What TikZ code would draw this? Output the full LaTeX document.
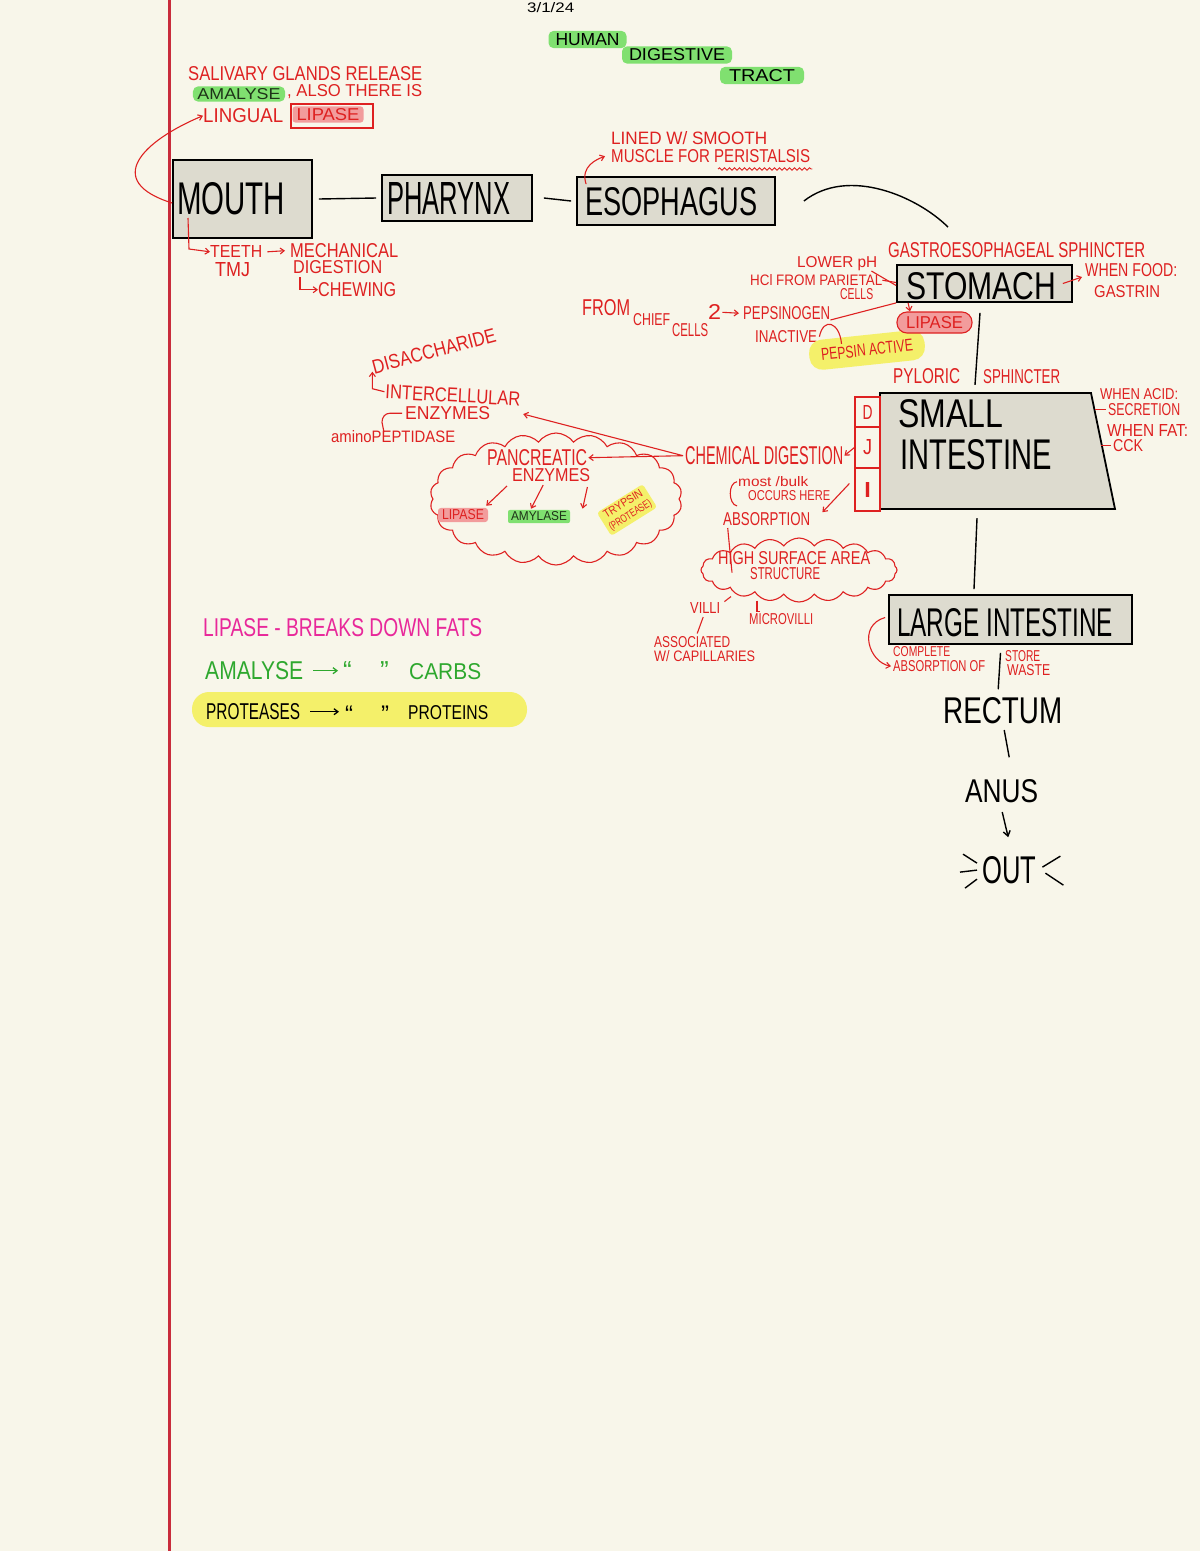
\documentclass[tikz,border=0pt]{standalone}
\usepackage{fontspec}
\setmainfont{Liberation Sans}
\usepackage{graphicx}
\usetikzlibrary{arrows.meta,shapes.symbols,decorations.pathmorphing}
\definecolor{bgc}{HTML}{F8F6EA}
\definecolor{rd}{HTML}{DE2121}
\definecolor{margin}{HTML}{C92C3C}
\definecolor{boxg}{HTML}{DDDBCF}
\definecolor{hlgreen}{HTML}{80E070}
\definecolor{hlpink}{HTML}{F29C9C}
\definecolor{hlyellow}{HTML}{F4F06A}
\definecolor{mag}{HTML}{E8289A}
\definecolor{lgreen}{HTML}{2EA82E}
\definecolor{dkgreen}{HTML}{1E3318}
\newcommand\hw[3]{\resizebox{#1pt}{#2pt}{#3}}
\tikzset{
 txt/.style={inner sep=0pt, anchor=south west},
 rt/.style={txt, text=rd},
 bt/.style={txt, text=black},
 box/.style={draw=black, line width=1.8pt, fill=boxg, inner sep=0pt},
 rl/.style={draw=rd, line width=1.1pt},
 ra/.style={rl, -{Straight Barb[length=4pt,width=6pt]}},
 bl/.style={draw=black, line width=1.4pt},
 hl/.style={inner xsep=5pt, inner ysep=2.5pt, rounded corners=5pt},
 tabbox/.style={draw=rd, line width=1.2pt, minimum width=25pt, inner sep=0pt, text=rd},
 cloudy/.style={cloud, draw=rd, line width=1.1pt, cloud puffs=22, cloud puff arc=110, inner sep=0pt},
}
\begin{document}
\begin{tikzpicture}[x=1pt,y=-1pt]
\useasboundingbox (0,0) rectangle (1200,1551);
\fill[bgc] (0,0) rectangle (1200,1551);
\draw[margin, line width=3pt] (169,0) -- (169,1551);

% title
\node[bt] (date) at (527,13) {\hw{47}{10}{3/1/24}};
\node[hl, fill=hlgreen, inner xsep=7pt] (human) at (587.5,39.5) {\hw{64}{12}{HUMAN}};
\node[hl, fill=hlgreen, inner xsep=7pt] (digestive) at (677,55) {\hw{96}{12}{DIGESTIVE}};
\node[hl, fill=hlgreen, inner xsep=9pt] (tract) at (762,75.5) {\hw{66}{12}{TRACT}};

% salivary
\node[rt] (sal) at (188,81) {\hw{234}{14}{SALIVARY GLANDS RELEASE}};
\node[hl, fill=hlgreen, inner xsep=4.5pt, inner ysep=2pt, text=dkgreen] (amy1) at (239,94) {\hw{83}{11}{AMALYSE}};
\node[rt] (also) at (287,99) {\hw{135}{12}{, ALSO THERE IS}};
\node[rt] (lingual) at (203,123) {\hw{80}{14}{LINGUAL}};
\node[draw=rd, line width=1.2pt, minimum width=82pt, minimum height=24pt, inner sep=0pt] (lipbox) at (332,116) {};
\node[hl, fill=hlpink, inner xsep=4pt, inner ysep=2pt, rounded corners=3pt, text=rd] (lip1) at (328,114.5) {\hw{63}{12}{LIPASE}};

% main boxes
\node[box, minimum width=139pt, minimum height=78pt] (mouth) at (242.5,199) {};
\node[bt] (mouthtxt) at (177,215) {\hw{108}{32}{MOUTH}};
\node[box, minimum width=150pt, minimum height=46pt] (pharynx) at (457,198) {};
\node[bt] (pharynxtxt) at (387,215) {\hw{123}{32}{PHARYNX}};
\node[box, minimum width=198pt, minimum height=48pt] (eso) at (676,201) {};
\node[bt] (esotxt) at (585,216) {\hw{172}{28}{ESOPHAGUS}};
\draw[bl] ([xshift=6pt]mouth.east) -- ([xshift=-5pt]pharynx.west);
\draw[bl] ([xshift=11pt]pharynx.east) -- ([xshift=-5pt]eso.west);

% mouth notes
\node[rt] (teeth) at (210,258) {\hw{52}{12}{TEETH}};
\node[rt] (tmj) at (215,277) {\hw{35}{14}{TMJ}};
\node[rt] (mech) at (290,258) {\hw{108}{14}{MECHANICAL}};
\node[rt] (digestion) at (293,274) {\hw{89}{13}{DIGESTION}};
\node[rt] (chew) at (318,297) {\hw{78}{14}{CHEWING}};
\draw[ra] ([shift={(-54.5,19)}]mouth.center) -- ++(1,31) -- (teeth.west);
\draw[ra] ([xshift=5pt]teeth.east) -- ([xshift=-5pt]mech.west);
\draw[ra] ([shift={(7,3)}]digestion.south west) |- (chew.west);
\draw[ra] ([yshift=-4pt]mouth.west) .. controls +(-70,-22) and +(-60,25) .. (lingual.west);

% esophagus notes
\node[rt] (lined) at (611,145) {\hw{156}{13}{LINED W/ SMOOTH}};
\node[rt] (muscle) at (611,163) {\hw{199}{13}{MUSCLE FOR PERISTALSIS}};
\draw[rl, line width=0.9pt, decorate, decoration={snake, amplitude=1.2pt, segment length=5pt}] ([shift={(107,6)}]muscle.south west) -- ([shift={(2,6)}]muscle.south east);
\draw[ra] ([shift={(10,8)}]eso.north west) .. controls +(-6,-18) and +(-8,3) .. ([xshift=-6pt]muscle.west);

% esophagus to stomach
\node[box, minimum width=175pt, minimum height=37pt] (stomach) at (984.5,283.5) {};
\node[bt] (stomtxt) at (906,300) {\hw{150}{27}{STOMACH}};
\draw[bl] ([xshift=28pt]eso.east) .. controls +(45,-35) and +(-30,-30) .. ([shift={(-36.5,-37)}]stomach.north);

% stomach notes
\node[rt] (gastro) at (888,258) {\hw{257}{15}{GASTROESOPHAGEAL SPHINCTER}};
\node[rt] (whenfood) at (1085,277) {\hw{92}{13}{WHEN FOOD:}};
\node[rt] (gastrin) at (1094,298) {\hw{66}{12}{GASTRIN}};
\draw[ra] ([xshift=-10pt]stomach.east) -- ([xshift=-3pt]whenfood.south west);
\node[rt] (lowerph) at (797,271) {\hw{80}{11}{LOWER pH}};
\node[rt] (hcl) at (750,286) {\hw{132}{11}{HCl FROM PARIETAL}};
\node[rt] (cells1) at (840,300) {\hw{33}{11}{CELLS}};
\draw[rl] ([xshift=-6pt]lowerph.south east) -- ([yshift=-2pt]stomach.west);
\draw[rl] (hcl.east) -- ([yshift=1pt]stomach.west);
\node[rt] (from) at (582,316) {\hw{48}{16}{FROM}};
\node[rt] (chief) at (633,326) {\hw{37}{12}{CHIEF}};
\node[rt] (cells2) at (672,337) {\hw{36}{13}{CELLS}};
\node[rt] (two) at (708,320) {\hw{13}{15}{2}};
\node[rt] (pepsinogen) at (743,320) {\hw{87}{13}{PEPSINOGEN}};
\draw[ra] ([xshift=1pt]two.east) -- ([xshift=-4pt]pepsinogen.west);
\draw[rl] (pepsinogen.south east) -- (stomach.south west);
\node[rt] (inactive) at (755,343) {\hw{62}{12}{INACTIVE}};
\node[hl, fill=hlyellow, rotate=6, inner xsep=12pt, inner ysep=9pt, rounded corners=13pt, text=rd] (pepsin) at (867,350) {\hw{92}{12}{PEPSIN ACTIVE}};
\draw[rl] ([xshift=2pt]inactive.east) .. controls +(4,-20) and +(-2,-22) .. ([shift={(34,3)}]pepsin.north west);
\node[draw=rd, line width=1.1pt, fill=hlpink, minimum width=75pt, minimum height=21pt, rounded corners=10pt, inner sep=0pt, text=rd] (lip2) at (934.5,322.5) {\hw{57}{12}{LIPASE}};
\draw[ra] ([xshift=12pt]stomach.south west) -- ([xshift=-24.5pt]lip2.north);
\node[rt] (pyloric) at (893,384) {\hw{67}{15}{PYLORIC}};
\node[rt] (sphincter) at (983,384) {\hw{77}{14}{SPHINCTER}};

% small intestine
\draw[box] (880,393) -- (1091,393) -- (1115,509) -- (880,509) -- cycle;
\node[inner sep=0pt, minimum width=223pt, minimum height=116pt] (si) at (991.5,451) {};
\node[bt] (smalltxt) at (898,428) {\hw{105}{28}{SMALL}};
\node[bt] (inttxt) at (900,470) {\hw{152}{30}{INTESTINE}};
\draw[bl] ([shift={(-4.5,10)}]stomach.south) -- ([shift={(-16.5,-8)}]si.north);
\node[tabbox, minimum height=30pt] (dtab) at (867.5,412) {\hw{10}{14}{D}};
\node[tabbox, minimum height=41pt] (jtab) at (867.5,447.5) {\hw{9}{15}{J}};
\node[tabbox, minimum height=43pt] (itab) at (867.5,489.5) {\hw{10}{15}{I}};
\node[rt] (whenacid) at (1100,400) {\hw{78}{11}{WHEN ACID:}};
\node[rt] (secretion) at (1108,416) {\hw{72}{12}{SECRETION}};
\node[rt] (whenfat) at (1107,437) {\hw{81}{12}{WHEN FAT:}};
\node[rt] (cck) at (1113,452) {\hw{30}{12}{CCK}};
\draw[rl] ([shift={(-13,0)}]secretion.west) -- ([xshift=-2pt]secretion.west);
\draw[rl] ([shift={(-12,0)}]cck.west) -- ([xshift=-2pt]cck.west);

% chemical digestion
\node[rt] (chem) at (685,465) {\hw{158}{18}{CHEMICAL DIGESTION}};
\draw[ra] (jtab.west) -- ([xshift=1pt]chem.east);
\node[rt, rotate=15, anchor=center] (disacc) at (434,351) {\hw{127}{14}{DISACCHARIDE}};
\node[rt, rotate=-3] (intercell) at (385,399) {\hw{135}{14}{INTERCELLULAR}};
\node[rt] (enz1) at (405,420) {\hw{85}{13}{ENZYMES}};
\node[rt] (amino) at (331,443) {\hw{124}{12}{aminoPEPTIDASE}};
\draw[ra] ([xshift=-1pt]intercell.west) -- ++(-12,-3) -- ++(0,-17);
\draw[rl] ([xshift=-3pt]enz1.west) -- ++(-12,0) .. controls +(-5,0) and +(0,-5) .. ++(-8,9) -- ++(2,10);
\draw[ra] ([xshift=-2pt]chem.west) -- ([shift={(3,8)}]intercell.south east);

% pancreatic cloud
\node[cloudy, minimum width=252pt, minimum height=132pt, aspect=1.9] (pcloud) at (556,499) {};
\node[rt] (panc) at (487,466) {\hw{100}{16}{PANCREATIC}};
\node[rt] (enz2) at (512,482) {\hw{78}{13}{ENZYMES}};
\draw[ra] ([xshift=-2pt]chem.west) -- ([xshift=1pt]panc.east);
\node[hl, fill=hlpink, inner xsep=4pt, inner ysep=2pt, rounded corners=3pt, text=rd] (lip3) at (463,515) {\hw{42}{10}{LIPASE}};
\node[hl, fill=hlgreen, inner xsep=3pt, inner ysep=2pt, rounded corners=2pt, text=dkgreen] (amy2) at (539,516.5) {\hw{56}{9}{AMYLASE}};
\node[fill=hlyellow, rotate=32, inner xsep=3pt, inner ysep=2pt, rounded corners=3pt, text=rd, align=center] (tryp) at (627,510) {\hw{44}{8}{TRYPSIN}\\[1pt]\hw{48}{8}{(PROTEASE)}};
\draw[ra] ([shift={(-5,4)}]enz2.south west) -- ([shift={(-2,-2)}]lip3.north east);
\draw[ra] ([shift={(-8,3)}]enz2.south) -- ([shift={(-8,-1)}]amy2.north);
\draw[ra] ([shift={(-3,5)}]enz2.south east) -- ([shift={(-14,-4)}]tryp.north west);

% absorption
\node[rt] (most) at (738,487) {\hw{70}{10}{most /bulk}};
\node[rt] (occurs) at (748,501) {\hw{82}{10}{OCCURS HERE}};
\node[rt] (absorb) at (723,526) {\hw{87}{13}{ABSORPTION}};
\draw[rl] ([xshift=-1pt]most.west) .. controls +(-9,1) and +(-9,-2) .. ([shift={(-11,5)}]occurs.south west);
\draw[ra] ([shift={(-5,-6)}]itab.west) -- ([shift={(12,-7)}]absorb.east);
\node[cloudy, minimum width=196pt, minimum height=64pt, aspect=3.0, cloud puffs=20] (hcloud) at (799,570) {};
\node[rt] (high) at (718,565) {\hw{152}{13}{HIGH SURFACE AREA}};
\node[rt] (struct) at (750,580) {\hw{70}{12}{STRUCTURE}};
\draw[rl] ([shift={(-39,2)}]absorb.south) -- ([shift={(-67,-30)}]hcloud.south);
\node[rt] (villi) at (690,614) {\hw{30}{11}{VILLI}};
\node[rt] (micro) at (749,625) {\hw{64}{11}{MICROVILLI}};
\node[rt] (assoc) at (654,648) {\hw{76}{11}{ASSOCIATED}};
\node[rt] (capill) at (654,662) {\hw{101}{11}{W/ CAPILLARIES}};
\draw[rl] ([shift={(-68,-6)}]hcloud.south) -- ([shift={(4,-1)}]villi.north east);
\draw[rl] ([shift={(-42,-2)}]hcloud.south) -- ++(0,11) -- ++(3,0);
\draw[rl] ([shift={(-2,3)}]villi.south) -- ([shift={(5,-3)}]assoc.north);

% large intestine
\node[box, minimum width=243pt, minimum height=49pt] (li) at (1010.5,619.5) {};
\node[bt] (litxt) at (897,637) {\hw{216}{28}{LARGE INTESTINE}};
\draw[bl] ([shift={(-14.5,9)}]si.south) -- ([shift={(-36.5,-5)}]li.north);
\node[rt] (complete) at (893,657) {\hw{57}{10}{COMPLETE}};
\node[rt] (absorpof) at (893,672) {\hw{92}{11}{ABSORPTION OF}};
\node[rt] (store) at (1005,662) {\hw{35}{11}{STORE}};
\node[rt] (waste) at (1007,676) {\hw{43}{11}{WASTE}};
\draw[ra] ([shift={(-3,-2)}]li.west) .. controls +(-28,8) and +(-22,-4) .. ([xshift=-2pt]absorpof.west);
\node[bt] (rectum) at (943,724) {\hw{119}{26}{RECTUM}};
\node[bt] (anus) at (965,803) {\hw{73}{23}{ANUS}};
\node[bt] (out) at (982,884) {\hw{54}{27}{OUT}};
\draw[bl] ([shift={(-10,8)}]li.south) -- ([shift={(-4.5,-8)}]rectum.north);
\draw[bl] ([shift={(1.5,6)}]rectum.south) -- ([shift={(7.5,-22)}]anus.north);
\draw[bl, -{Straight Barb[length=5pt,width=7pt]}] ([shift={(0.5,9)}]anus.south) -- ([shift={(-1,-19)}]out.north);
\draw[bl] ([shift={(-19,-16)}]out.west) -- ([shift={(-5,-7)}]out.west);
\draw[bl] ([shift={(-22,2)}]out.west) -- ([shift={(-5,0)}]out.west);
\draw[bl] ([shift={(-17,18)}]out.west) -- ([shift={(-5,9)}]out.west);
\draw[bl] ([shift={(6,-3)}]out.east) -- ([shift={(24,-14)}]out.east);
\draw[bl] ([shift={(9,3)}]out.east) -- ([shift={(27,15)}]out.east);

% legend
\node[txt, text=mag] (lipdef) at (203,637) {\hw{279}{18}{LIPASE - BREAKS DOWN FATS}};
\node[txt, text=lgreen] (amydef) at (205,680) {\hw{98}{18}{AMALYSE}};
\node[txt, text=lgreen, font=\fontsize{26}{26}\selectfont] (q1) at (343,680) {“};
\node[txt, text=lgreen, font=\fontsize{26}{26}\selectfont] (q2) at (380,680) {”};
\node[txt, text=lgreen] (carbs) at (409,680) {\hw{72}{16}{CARBS}};
\draw[lgreen, line width=1.3pt, -{Straight Barb[length=4pt,width=6pt]}] ([xshift=10pt]amydef.east) -- ([xshift=-5pt]q1.south west |- amydef.east);
\node[fill=hlyellow, minimum width=335pt, minimum height=35pt, rounded corners=17pt, inner sep=0pt] (pill) at (359.5,709.5) {};
\node[bt] (prot) at (206,720) {\hw{94}{16}{PROTEASES}};
\node[bt, font=\fontsize{24}{24}\selectfont] (q3) at (345,723) {“};
\node[bt, font=\fontsize{24}{24}\selectfont] (q4) at (381,723) {”};
\node[bt] (proteins) at (408,720) {\hw{80}{14}{PROTEINS}};
\draw[black, line width=1.3pt, -{Straight Barb[length=4pt,width=6pt]}] ([xshift=10pt]prot.east) -- ([xshift=-6pt]q3.south west |- prot.east);
\end{tikzpicture}
\end{document}
